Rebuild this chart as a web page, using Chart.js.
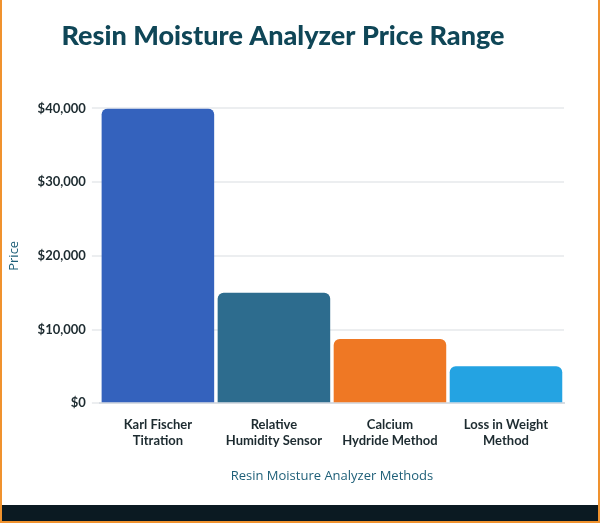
<!DOCTYPE html>
<html><head><meta charset="utf-8">
<script src="https://cdn.jsdelivr.net/npm/chart.js@4"></script>
<style>
html,body{margin:0;padding:0;background:#fff;}
#frame{position:relative;width:596px;height:521px;border:2px solid #f0922e;border-top:none;overflow:hidden;}
#wrap{position:absolute;left:0;top:0;width:596px;height:506px;}
#foot{position:absolute;left:0;bottom:0;width:596px;height:16px;background:#0b1a22;}
</style></head><body>
<div id="frame"><div id="wrap"><canvas id="c"></canvas></div><div id="foot"></div></div>
<script>
"use strict";
const categories = [["Karl Fischer", "Titration"], ["Relative", "Humidity Sensor"], ["Calcium", "Hydride Method"], ["Loss in Weight", "Method"]];
const prices = [40000, 15000, 8700, 5000];
const barColors = ["#3462bd", "#2d6c8e", "#ef7824", "#24a3e2"];
const yTicks = [0, 10000, 20000, 30000, 40000];

new Chart(document.getElementById("c"), {
  type: "bar",
  data: { labels: categories, datasets: [{ data: prices, backgroundColor: barColors, borderRadius: { topLeft: 6, topRight: 6 }, borderSkipped: "bottom", barPercentage: 0.97, categoryPercentage: 1 }] },
  options: {
    responsive: true, maintainAspectRatio: false, animation: false,
    layout: { padding: { left: 0, right: 34, top: 10, bottom: 18 } },
    plugins: {
      legend: { display: false }, tooltip: { enabled: false },
      title: { display: true, text: "Resin Moisture Analyzer Price Range", color: "#0f4657", font: { family: "Lato", size: 27, weight: "900" }, padding: { top: 10, bottom: 56 } },
    },
    scales: {
      x: {
        grid: { display: false }, border: { color: "#d8dde3", width: 2 },
        ticks: { color: "#1d2b30", font: { family: "Lato", size: 13, weight: "bold" }, padding: 6 },
        title: { display: true, text: "Resin Moisture Analyzer Methods", color: "#1e5f78", font: { family: "Open Sans", size: 13 }, padding: { top: 14 } },
      },
      y: {
        min: 0, max: 40000,
        afterBuildTicks: (s) => { s.ticks = yTicks.map((v) => ({ value: v })); },
        grid: { color: "#eceef0", lineWidth: 2 }, border: { display: false },
        ticks: { color: "#1d2b30", font: { family: "Lato", size: 13, weight: "bold" }, padding: 6, callback: (v) => "$" + v.toLocaleString("en-US") },
        title: { display: true, text: "Price", color: "#1e5f78", font: { family: "Open Sans", size: 13 }, padding: { bottom: 10 } },
      },
    },
  },
});
</script></body></html>
